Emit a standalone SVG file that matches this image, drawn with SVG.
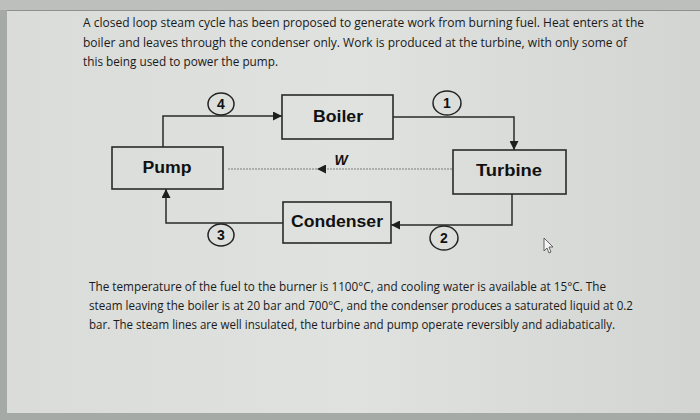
<svg xmlns="http://www.w3.org/2000/svg" width="700" height="420" viewBox="0 0 700 420">
<defs>
<linearGradient id="pg" x1="0" y1="0" x2="1" y2="0">
<stop offset="0" stop-color="#d9dcd9"/>
<stop offset="0.5" stop-color="#dfe2df"/>
<stop offset="1" stop-color="#d2d5d2"/>
</linearGradient>
<marker id="ah" viewBox="0 0 10 10" refX="10" refY="5" markerWidth="10" markerHeight="9" markerUnits="userSpaceOnUse" orient="auto">
<path d="M0,0 L10,5 L0,10 Z" fill="#1e1e1e"/>
</marker>
<style>
.box{fill:none;stroke:#2a2a2a;stroke-width:1.6}
.lbl{font-family:"Liberation Sans",Arial,sans-serif;font-weight:bold;fill:#111;text-anchor:middle}
.num{font-family:"Liberation Sans",Arial,sans-serif;font-weight:bold;font-size:14px;fill:#111;text-anchor:middle}
.ell{fill:none;stroke:#222;stroke-width:1.5}
.con{fill:none;stroke:#2a2a2a;stroke-width:1.5}
.body{font-family:"Open Sans","Noto Sans",sans-serif;font-size:13px;fill:#1a1a1a}
</style>
</defs>
<rect x="0" y="0" width="700" height="420" fill="#a6aaa6"/>
<rect x="0" y="0" width="700" height="10" fill="#bcbfbc"/>
<rect x="7" y="10" width="693" height="403" fill="url(#pg)"/>
<line x1="7" y1="10.5" x2="700" y2="10.5" stroke="#8e928e" stroke-width="1"/>

<g id="text-top">
<text class="body" x="83" y="27" textLength="561" lengthAdjust="spacingAndGlyphs">A closed loop steam cycle has been proposed to generate work from burning fuel. Heat enters at the</text>
<text class="body" x="83" y="47" textLength="544" lengthAdjust="spacingAndGlyphs">boiler and leaves through the condenser only. Work is produced at the turbine, with only some of</text>
<text class="body" x="83" y="66" textLength="195" lengthAdjust="spacingAndGlyphs">this being used to power the pump.</text>
</g>

<g id="connectors">
<path class="con" d="M163,147 V116 H282" marker-end="url(#ah)"/>
<path class="con" d="M393,117 H514 V150" marker-end="url(#ah)"/>
<path class="con" d="M512,194 V225 H391" marker-end="url(#ah)"/>
<path class="con" d="M283,223 H166 V189" marker-end="url(#ah)"/>
<line x1="228" y1="169" x2="453" y2="169" stroke="#7a7d7a" stroke-width="1.2" stroke-dasharray="2,1"/>
<path d="M330,169 H317" stroke="none" fill="none" marker-end="url(#ah)"/>
<text class="lbl" x="341" y="165" font-size="14" font-style="italic">W</text>
</g>

<g id="boiler">
<rect class="box" x="282" y="95" width="111" height="44"/>
<text class="lbl" x="338" y="122" font-size="16" textLength="50" lengthAdjust="spacingAndGlyphs">Boiler</text>
</g>
<g id="pump">
<rect class="box" x="112" y="147" width="111" height="42"/>
<text class="lbl" x="167" y="173" font-size="16" textLength="49" lengthAdjust="spacingAndGlyphs">Pump</text>
</g>
<g id="condenser">
<rect class="box" x="283" y="202" width="108" height="41"/>
<text class="lbl" x="337" y="227" font-size="16" textLength="92" lengthAdjust="spacingAndGlyphs">Condenser</text>
</g>
<g id="turbine">
<rect class="box" x="453" y="150" width="113" height="44"/>
<text class="lbl" x="509" y="176" font-size="16" textLength="66" lengthAdjust="spacingAndGlyphs">Turbine</text>
</g>

<g id="state1">
<ellipse class="ell" cx="447" cy="103" rx="14" ry="12"/>
<text class="num" x="447" y="108">1</text>
</g>
<g id="state2">
<ellipse class="ell" cx="444" cy="238" rx="14" ry="12"/>
<text class="num" x="444" y="243">2</text>
</g>
<g id="state3">
<ellipse class="ell" cx="221" cy="235" rx="13" ry="11"/>
<text class="num" x="221" y="240">3</text>
</g>
<g id="state4">
<ellipse class="ell" cx="221" cy="104" rx="13" ry="11"/>
<text class="num" x="221" y="109">4</text>
</g>

<path d="M544,238 L544,251 L547,248 L549,253 L551,252 L549,247 L553,247 Z" fill="#f4f4f4" stroke="#444" stroke-width="0.8"/>

<g id="text-bottom">
<text class="body" x="89" y="291" textLength="517" lengthAdjust="spacingAndGlyphs">The temperature of the fuel to the burner is 1100°C, and cooling water is available at 15°C.  The</text>
<text class="body" x="89" y="310" textLength="544" lengthAdjust="spacingAndGlyphs">steam leaving the boiler is at 20 bar and 700°C, and the condenser produces a saturated liquid at 0.2</text>
<text class="body" x="89" y="329" textLength="526" lengthAdjust="spacingAndGlyphs">bar. The steam lines are well insulated, the turbine and pump operate reversibly and adiabatically.</text>
</g>
</svg>
